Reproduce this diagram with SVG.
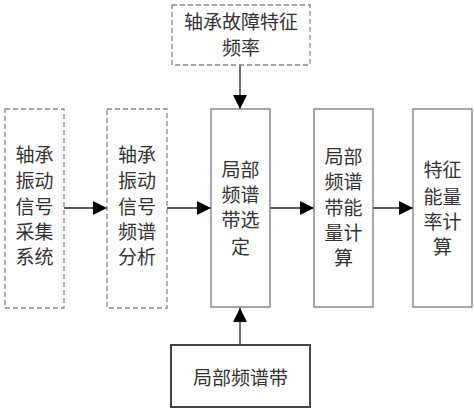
<svg xmlns="http://www.w3.org/2000/svg" width="474" height="409" viewBox="0 0 474 409">
<style>
.dash{fill:#fff;stroke:#888;stroke-width:1.3;stroke-dasharray:5,3}
.solid{fill:#fff;stroke:#777;stroke-width:1.3}
.dark{fill:#fff;stroke:#444;stroke-width:2}
text{font-family:"Noto Sans CJK SC","Noto Sans CJK JP",sans-serif;font-size:19px;fill:#333;text-anchor:middle}
.conn{stroke:#222;stroke-width:1.3;fill:none}
</style>
<defs>
<marker id="ah" markerWidth="14" markerHeight="14" refX="14" refY="7" orient="auto" markerUnits="userSpaceOnUse">
<path d="M0,0 L14,7 L0,14 Z" fill="#000"/>
</marker>
</defs>
<rect width="474" height="409" fill="#fff"/>
<g id="connectors">
<line class="conn" x1="64" y1="208" x2="107" y2="208" marker-end="url(#ah)"/>
<line class="conn" x1="167" y1="208" x2="211" y2="208" marker-end="url(#ah)"/>
<line class="conn" x1="270" y1="208" x2="314" y2="208" marker-end="url(#ah)"/>
<line class="conn" x1="373" y1="208" x2="413" y2="208" marker-end="url(#ah)"/>
<line class="conn" x1="240" y1="65" x2="240" y2="109" marker-end="url(#ah)"/>
<line class="conn" x1="240" y1="345" x2="240" y2="308" marker-end="url(#ah)"/>
</g>
<g id="n1">
<rect class="dash" x="5" y="109" width="59" height="199"/>
<text x="34.5" y="162">轴承</text>
<text x="34.5" y="188">振动</text>
<text x="34.5" y="214">信号</text>
<text x="34.5" y="239">采集</text>
<text x="34.5" y="264">系统</text>
</g>
<g id="n2">
<rect class="dash" x="107" y="109" width="60" height="199"/>
<text x="137" y="162">轴承</text>
<text x="137" y="188">振动</text>
<text x="137" y="214">信号</text>
<text x="137" y="239">频谱</text>
<text x="137" y="264">分析</text>
</g>
<g id="n3">
<rect class="solid" x="211" y="109" width="59" height="198"/>
<text x="240.5" y="177">局部</text>
<text x="240.5" y="202">频谱</text>
<text x="240.5" y="227">带选</text>
<text x="240.5" y="254">定</text>
</g>
<g id="n4">
<rect class="solid" x="314" y="109" width="59" height="198"/>
<text x="343.5" y="164">局部</text>
<text x="343.5" y="189">频谱</text>
<text x="343.5" y="215">带能</text>
<text x="343.5" y="240">量计</text>
<text x="343.5" y="265">算</text>
</g>
<g id="n5">
<rect class="solid" x="413" y="109" width="59" height="198"/>
<text x="442.5" y="177">特征</text>
<text x="442.5" y="204">能量</text>
<text x="442.5" y="229">率计</text>
<text x="442.5" y="254">算</text>
</g>
<g id="n6">
<rect class="dash" x="172" y="5" width="138" height="60"/>
<text x="241" y="29">轴承故障特征</text>
<text x="241" y="55">频率</text>
</g>
<g id="n7">
<rect class="dark" x="171" y="345" width="139" height="62"/>
<text x="240.5" y="385">局部频谱带</text>
</g>
</svg>
